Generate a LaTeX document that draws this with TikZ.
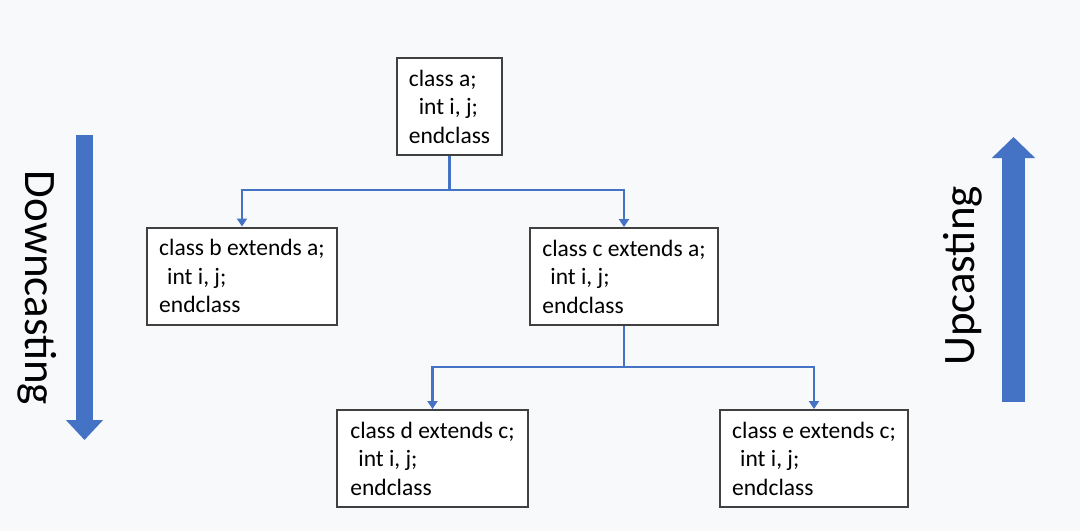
\documentclass[tikz,border=0pt]{standalone}
\usepackage{fontspec}
\setmainfont{Carlito}
\usetikzlibrary{arrows.meta}
\definecolor{castblue}{RGB}{68,114,196}
\definecolor{boxgray}{RGB}{64,64,64}
\definecolor{paper}{RGB}{248,249,250}
\tikzset{
  classbox/.style={draw=boxgray,line width=2pt,fill=white,align=left,
    minimum width=#1,minimum height=97pt,font=\fontsize{23.5}{28.5}\selectfont},
  link/.style={draw=castblue,line width=2.7pt,-{Triangle[width=10pt,length=8pt]}},
  castlabel/.style={font=\fontsize{45}{54}\selectfont,inner sep=0pt}
}
\begin{document}
\begin{tikzpicture}[x=1pt,y=-1pt]
\fill[paper] (0,0) rectangle (1080,531);
\useasboundingbox (0,0) rectangle (1080,531);
\node[classbox=105pt] (a) at (449.5,106.5) {class a;\\\hspace*{10pt}int i, j;\\endclass};
\node[classbox=190pt] (b) at (242,276) {class b extends a;\\\hspace*{8pt}int i, j;\\endclass};
\node[classbox=188pt] (c) at (624,276.5) {class c extends a;\\\hspace*{8pt}int i, j;\\endclass};
\node[classbox=191pt] (d) at (432.5,458.5) {class d extends c;\\\hspace*{8pt}int i, j;\\endclass};
\node[classbox=188pt] (e) at (814,458.5) {class e extends c;\\\hspace*{8pt}int i, j;\\endclass};
\draw[link] (a.south) -- ++(0,34) -| (b.north);
\draw[link] (a.south) -- ++(0,34) -| (c.north);
\draw[link] (c.south) -- ++(0,41) -| (d.north);
\draw[link] (c.south) -- ++(0,41) -| (e.north);
% side arrows
\coordinate (downtop) at (84.5,135);
\coordinate (downtip) at (84.5,440);
\draw[castblue,line width=17pt,-{Triangle[width=36pt,length=20pt]}] (downtop) -- (downtip);
\coordinate (upbot) at (1013.5,402);
\coordinate (uptip) at (1013.5,137);
\draw[castblue,line width=23pt,-{Triangle[width=42pt,length=21pt]}] (upbot) -- (uptip);
\node[castlabel,rotate=-90] (down) at (37,288) {Downcasting};
\node[castlabel,rotate=90] (up) at (963,276) {Upcasting};
\end{tikzpicture}
\end{document}
